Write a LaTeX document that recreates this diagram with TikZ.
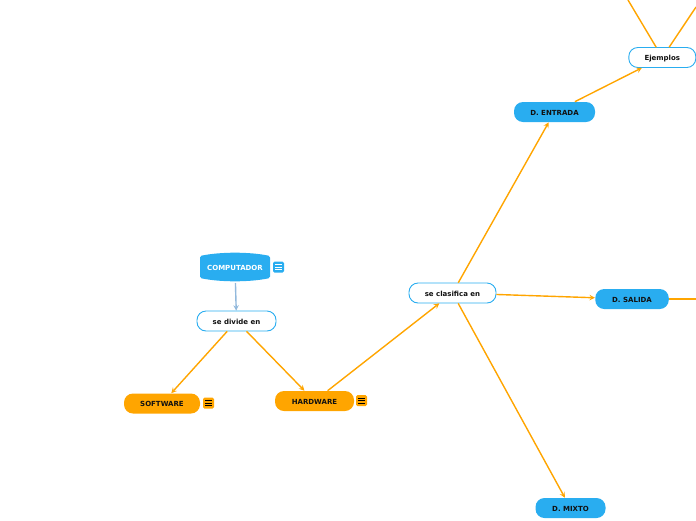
\documentclass[tikz,border=0pt]{standalone}
\usepackage{fontspec}
\setmainfont{DejaVu Sans}
\definecolor{skyfill}{HTML}{29ADF0}
\definecolor{orangefill}{HTML}{FFA500}
\definecolor{linkblue}{HTML}{92B9DC}
\definecolor{inkdark}{HTML}{111111}
\tikzset{topic/.style = {rectangle, rounded corners = 9, minimum height = 20, inner sep = 0, outer sep = 0.3, text height = 6.5, text depth = 0, font = \fontsize{7}{8}\selectfont\bfseries, text = inkdark}}
\tikzset{skybox/.style = {topic, fill = skyfill}}
\tikzset{orangebox/.style = {topic, fill = orangefill}}
\tikzset{linkbox/.style = {topic, draw = skyfill, fill = white, line width = 0.9}}
\tikzset{link/.style = {draw = orangefill, line width = 1.4, -stealth}}
\tikzset{tail/.style = {draw = orangefill, line width = 1.4}}
\tikzset{note/.style = {rectangle, rounded corners = 1.5, minimum size = 11, inner sep = 0,
    path picture = {\draw [#1, line width = 0.7] (-3.5,-2.5) -- (3.5,-2.5) (-3.5,0) -- (3.5,0) (-3.5,2.5) -- (3.5,2.5);}}}

\begin{document}
\begin{tikzpicture}[x = 1pt, y = -1pt]
    \useasboundingbox (0,0) rectangle (696,520);
    \fill [skyfill, rounded corners = 1.5] (200,256) .. controls (220,251.7) and (250,251.7) .. (270,256) -- (270,278) .. controls (250,282.3) and (220,282.3) .. (200,278) -- cycle;
    \node [topic, minimum width = 70, minimum height = 28, text = white, outer sep = 2] (computador) at (235,267) {COMPUTADOR};
    \node [linkbox, minimum width = 79] (divide) at (236.5,321) {se divide en};
    \node [orangebox, minimum width = 76] (software) at (162,403.5) {SOFTWARE};
    \node [orangebox, minimum width = 79] (hardware) at (314.5,401) {HARDWARE};
    \node [linkbox, minimum width = 87] (clasifica) at (452.5,293) {se clasifica en};
    \node [skybox, minimum width = 81] (entrada) at (554.5,112) {D. ENTRADA};
    \node [linkbox, minimum width = 67] (ejemplos) at (662.3,57.5) {Ejemplos};
    \node [skybox, minimum width = 73.5] (salida) at (632,299) {D. SALIDA};
    \node [skybox, minimum width = 70] (mixto) at (570.5,508) {D. MIXTO};

    \node [note = white, fill = skyfill] (notecomputador) at (278.5,267) {};
    \node [note = black, fill = orangefill] (notesoftware) at (208.5,403) {};
    \node [note = black, fill = orangefill] (notehardware) at (361.5,400.5) {};

    \coordinate (salidaend) at (696,299);
    \coordinate (ejemplosa) at (628,0);
    \coordinate (ejemplosb) at (696,7);

    \draw [-stealth, draw = linkblue, line width = 1.4] (computador) -- (divide);
    \draw [link] (divide) -- (software);
    \draw [link] (divide) -- (hardware);
    \draw [link] (hardware) -- (clasifica);
    \draw [link] (clasifica) -- (entrada);
    \draw [link] (clasifica) -- (salida);
    \draw [link] (clasifica) -- (mixto);
    \draw [link] (entrada) -- (ejemplos);
    \draw [tail] (salida) -- (salidaend);
    \draw [tail] (ejemplos) -- (ejemplosa);
    \draw [tail] (ejemplos) -- (ejemplosb);
\end{tikzpicture}
\end{document}
